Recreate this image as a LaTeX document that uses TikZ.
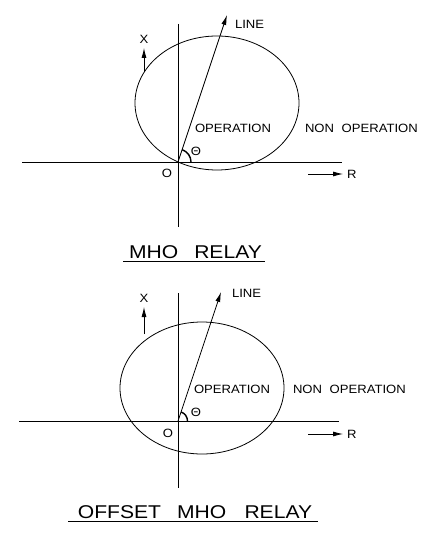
\documentclass[tikz,border=0pt]{standalone}
\usepackage{graphicx}
\usepackage{fontspec}
\setmainfont{Liberation Sans}
\usetikzlibrary{shapes.geometric,arrows.meta}
\newcommand{\lsx}[1]{\scalebox{1.09}[1]{\fontsize{12}{12}\selectfont #1}}
\newcommand{\tsx}[1]{\scalebox{1.14}[1]{\fontsize{18.5}{18.5}\selectfont #1}}
\tikzset{
  axis/.style={line width=0.8pt},
  curve/.style={draw, ellipse, line width=0.8pt, inner sep=0pt, outer sep=0pt},
  arr/.style={line width=0.8pt, -{Latex[length=10pt,width=5pt]}},
  anglearc/.style={line width=1.4pt},
  lbl/.style={inner sep=0pt, outer sep=0pt, anchor=base west},
  clbl/.style={inner sep=0pt, outer sep=0pt, anchor=base},
  ttl/.style={inner sep=0pt, outer sep=0pt, anchor=base},
  uline/.style={line width=0.9pt}
}
\begin{document}
\begin{tikzpicture}[x=1pt,y=-1pt]
\useasboundingbox (0,0) rectangle (440,537);
% ---------- MHO RELAY ----------
\coordinate (O1) at (178,162);
\coordinate (vt1) at (178,24);
\coordinate (vb1) at (178,227);
\coordinate (hl1) at (22,162);
\coordinate (hr1) at (342,162);
\draw[axis] (vt1) -- (vb1);
\draw[axis] (hl1) -- (hr1);
\node[curve, minimum width=164pt, minimum height=134pt] (E1) at (217,103) {};
\coordinate (L1) at (227,15);
\draw[arr] (O1) -- (L1);
\coordinate (xs1) at (144,72);
\coordinate (xe1) at (144,48);
\draw[arr] (xs1) -- (xe1);
\coordinate (rs1) at (308,174);
\coordinate (re1) at (343,174);
\draw[arr] (rs1) -- (re1);
\draw[anglearc] ([shift={(13,0)}]O1) arc[start angle=0, end angle=-71.6, radius=13];
\node[lbl] (line1) at (235,29) {\lsx{LINE}};
\node[clbl] (x1) at (144,43.5) {\lsx{X}};
\node[lbl] (r1) at (347,178.5) {\lsx{R}};
\node[clbl] (o1) at (167,177.5) {\lsx{O}};
\node[clbl] (th1) at (196,156) {\lsx{Θ}};
\node[lbl] (op1) at (195,133) {\lsx{OPERATION}};
\node[lbl] (nop1) at (305,133) {\lsx{NON\hspace{7pt}OPERATION}};
\node[ttl] (t1) at (195.5,258) {\tsx{MHO\hspace{14pt}RELAY}};
\coordinate (ul1) at (123,261.5);
\coordinate (ur1) at (265,261.5);
\draw[uline] (ul1) -- (ur1);
% ---------- OFFSET MHO RELAY ----------
\coordinate (O2) at (178,421);
\coordinate (vt2) at (178,293);
\coordinate (vb2) at (178,488);
\coordinate (hl2) at (19,421);
\coordinate (hr2) at (339,421);
\draw[axis] (vt2) -- (vb2);
\draw[axis] (hl2) -- (hr2);
\node[curve, minimum width=164pt, minimum height=132pt] (E2) at (202,388) {};
\coordinate (L2) at (221,292);
\draw[arr] (O2) -- (L2);
\coordinate (xs2) at (144,334);
\coordinate (xe2) at (144,307);
\draw[arr] (xs2) -- (xe2);
\coordinate (rs2) at (308,434);
\coordinate (re2) at (343,434);
\draw[arr] (rs2) -- (re2);
\draw[anglearc] ([shift={(9.5,0)}]O2) arc[start angle=0, end angle=-71.6, radius=9.5];
\node[lbl] (line2) at (232,297.5) {\lsx{LINE}};
\node[clbl] (x2) at (144,302.5) {\lsx{X}};
\node[lbl] (r2) at (347,438.5) {\lsx{R}};
\node[clbl] (o2) at (168,437) {\lsx{O}};
\node[clbl] (th2) at (196,416) {\lsx{Θ}};
\node[lbl] (op2) at (194,393) {\lsx{OPERATION}};
\node[lbl] (nop2) at (293,393) {\lsx{NON\hspace{7pt}OPERATION}};
\node[ttl] (t2) at (195,518) {\tsx{OFFSET\hspace{14pt}MHO\hspace{16pt}RELAY}};
\coordinate (ul2) at (68,521.5);
\coordinate (ur2) at (318,521.5);
\draw[uline] (ul2) -- (ur2);
\end{tikzpicture}
\end{document}
